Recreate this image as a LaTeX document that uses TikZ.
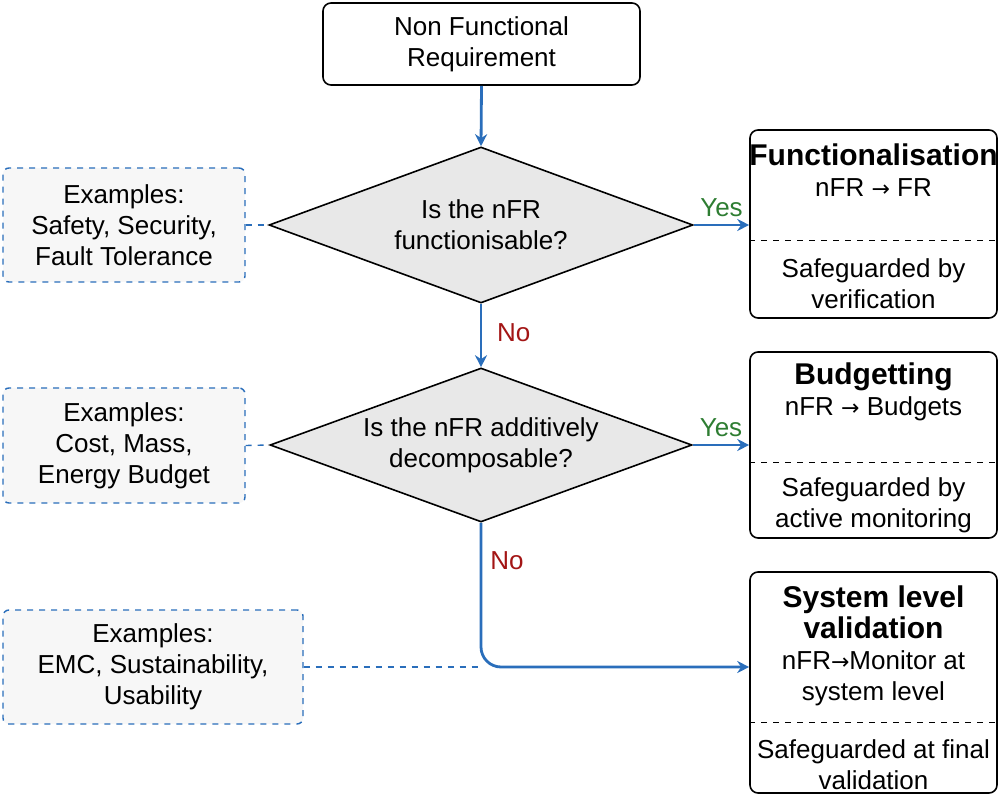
\documentclass[tikz,border=0pt]{standalone}
\usepackage{fontspec}
\setmainfont{Liberation Sans}
\newfontfamily\arrowfont{DejaVu Sans}
\usetikzlibrary{shapes.geometric,arrows.meta}
\definecolor{fblue}{HTML}{2A6EBB}
\definecolor{fgreen}{HTML}{2E7D32}
\definecolor{fred}{HTML}{A31515}
\definecolor{dfill}{HTML}{E8E8E8}
\definecolor{efill}{HTML}{F7F7F7}
\newcommand{\ra}{{\arrowfont\fontsize{11}{13}\selectfont →}}
\newcommand{\ttl}{\fontsize{15}{18}\selectfont\bfseries}
\begin{document}
\begin{tikzpicture}[x=0.5pt,y=-0.5pt,
  every node/.style={font=\fontsize{13}{15.5}\selectfont, align=center},
  box/.style={draw, rounded corners=4pt, line width=0.8pt},
  ex/.style={draw=fblue, dashed, fill=efill, rounded corners=3pt, line width=0.7pt},
  dia/.style={draw, diamond, fill=dfill, line width=0.8pt, aspect=2.7},
  flow/.style={draw=fblue, line width=1.4pt, -{Stealth[length=6pt,width=6pt]}},
  dlink/.style={draw=fblue, dashed, line width=0.7pt},
  yes/.style={text=fgreen}, no/.style={text=fred}]
\useasboundingbox (0,0) rectangle (1000,801);
\node[box, minimum width=158.5pt, minimum height=41pt] (nfr) at (481.5,44) {Non Functional\\Requirement};
\node[dia, minimum width=212pt, minimum height=78pt, inner sep=0pt] (d1) at (481,225) {};
\node (t1) at (481,225) {Is the nFR\\functionisable?};
\node[dia, minimum width=211pt, minimum height=77pt, inner sep=0pt] (d2) at (481,445) {};
\node (t2) at (481,445) {Is the nFR additively\\decomposable?};
\node[ex, minimum width=121pt, minimum height=57pt] (e1) at (124,225) {Examples:\\Safety, Security,\\Fault Tolerance};
\node[ex, minimum width=121pt, minimum height=57.5pt] (e2) at (124,445.5) {Examples:\\Cost, Mass,\\Energy Budget};
\node[ex, minimum width=150pt, minimum height=57pt] (e3) at (153,667) {Examples:\\EMC, Sustainability,\\Usability};
% right boxes
\node[box, minimum width=123.5pt, minimum height=94pt] (r1) at (873.5,224) {};
\draw[dashed] (r1.west |- 0,240) -- (r1.east |- 0,240);
\node (r1a) at (873.5,170) {{\ttl Functionalisation}\\nFR \ra{} FR};
\node (r1b) at (873.5,284) {Safeguarded by\\verification};
\node[box, minimum width=123.5pt, minimum height=93pt] (r2) at (873.5,445) {};
\draw[dashed] (r2.west |- 0,462) -- (r2.east |- 0,462);
\node (r2a) at (873.5,392) {{\ttl Budgetting}\\nFR \ra{} Budgets};
\node (r2b) at (873.5,505) {Safeguarded by\\active monitoring};
\node[box, minimum width=123.5pt, minimum height=110.5pt] (r3) at (873.5,682.5) {};
\draw[dashed] (r3.west |- 0,722) -- (r3.east |- 0,722);
\node (r3a) at (873.5,646) {{\ttl System level}\\{\ttl validation}\\nFR\ra{}Monitor at\\system level};
\node (r3b) at (873.5,765) {Safeguarded at final\\validation};
% flows
\draw[flow] (nfr.south) -- (d1.north);
\draw[flow] (d1.east) -- (r1.west |- d1.east) node[midway, above, yes] {Yes};
\draw[flow] (d1.south) -- (d2.north) node[pos=0.45, right=4pt, no] {No};
\draw[flow] (d2.east) -- (r2.west |- d2.east) node[midway, above, yes] {Yes};
\coordinate (c3) at (481,667);
\draw[dlink] (e1.east) -- (d1.west);
\draw[dlink] (e2.east) -- (d2.west);
\draw[dlink] (e3.east) -- (c3);
\draw[flow, rounded corners=10pt] (d2.south) -- (c3) -- (r3.west |- c3);
\node[no] (no2) at (507,561) {No};
\end{tikzpicture}
\end{document}
